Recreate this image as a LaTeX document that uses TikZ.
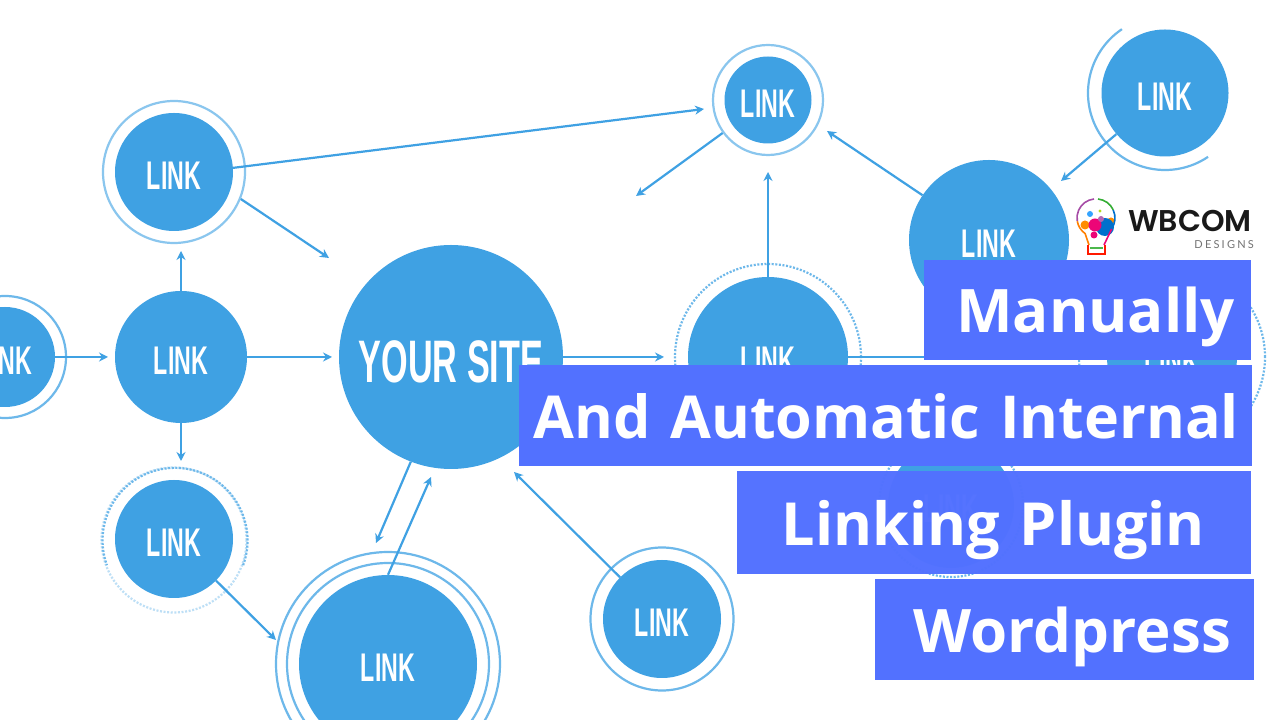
\documentclass[tikz,border=0pt]{standalone}
\usepackage{fontspec}
\usepackage{tikz}
\usetikzlibrary{arrows.meta}
\newfontfamily\linkfont[FakeStretch=0.58]{Liberation Sans}
\newfontfamily\sitefont[FakeStretch=0.57]{Liberation Sans}
\newfontfamily\titlefont{Open Sans}
\newfontfamily\logofont{Poppins SemiBold}
\newfontfamily\subfont[LetterSpace=20]{Lato}
\definecolor{linkblue}{HTML}{3FA1E3}
\definecolor{ringblue}{HTML}{6DB8EA}
\definecolor{titleblue}{HTML}{5271FF}
\tikzset{
    linknode/.style={circle,fill=linkblue,text=white,inner sep=0pt,font=\linkfont\bfseries\fontsize{40}{40}\selectfont,text height=35pt,text depth=0pt},
    ringnode/.style={circle,draw=ringblue,line width=2.2pt,inner sep=0pt},
    dotnode/.style={ringnode,dash pattern=on 2pt off 1.6pt},
    linkarrow/.style={draw=linkblue,line width=2.2pt,-{Stealth[length=9pt,width=9pt]}},
    titlebox/.style={fill=titleblue,text=white,inner ysep=0pt,align=right,text height=46pt,text depth=0pt,font=\titlefont\bfseries\fontsize{60}{60}\selectfont},
}
\begin{document}
\begin{tikzpicture}[x=1pt,y=1pt]
    \useasboundingbox (0,0) rectangle (1280,720);
    \clip (0,0) rectangle (1280,720);
    \fill[white] (0,0) rectangle (1280,720);

    \node[linknode,minimum size=118pt] (linkA) at (174,548) {LINK};
    \node[ringnode,draw=ringblue!80,minimum size=142pt] (ringA) at (174,548) {};
    \node[linknode,minimum size=100pt] (linkL) at (5,363) {LINK};
    \node[ringnode,minimum size=122pt] (ringL) at (5,363) {};
    \node[linknode,minimum size=132pt] (linkM) at (181,363) {LINK};
    \node[linknode,minimum size=118pt] (linkBL) at (174,181) {LINK};
    \node[dotnode,draw=ringblue!45,minimum size=145pt] (ringBL) at (174,180) {};
    \draw[ringblue,line width=2.2pt,dash pattern=on 2pt off 1.6pt] (ringBL.-20) arc[start angle=-20,end angle=200,radius=72.5pt];
    \node[linknode,minimum size=224pt,font=\sitefont\bfseries\fontsize{60}{60}\selectfont,text height=52pt] (site) at (451,363) {YOUR SITE};
    \node[linknode,minimum size=178pt] (linkBig) at (388,56) {LINK};
    \node[ringnode,minimum size=202pt] (ringBig) at (388,56) {};
    \node[ringnode,minimum size=224pt] (ringBigOut) at (388,56) {};
    \node[linknode,minimum size=118pt] (linkBR) at (662,101) {LINK};
    \node[ringnode,minimum size=143pt] (ringBR) at (662,101) {};
    \node[linknode,minimum size=87pt] (linkT) at (768,620) {LINK};
    \node[ringnode,draw=ringblue!80,minimum size=110pt] (ringT) at (768,620) {};
    \node[linknode,minimum size=160pt] (linkRB) at (989,480) {LINK};
    \node[linknode,minimum size=160pt] (linkCR) at (768,363) {LINK};
    \node[dotnode,minimum size=186pt] (ringCR) at (768,363) {};
    \node[linknode,minimum size=127pt] (linkTR) at (1165,627) {LINK};
    \node[linknode,minimum size=130pt] (linkF) at (1172,363) {LINK};
    \node[dotnode,minimum size=186pt] (ringF) at (1172,363) {};
    \node[linknode,minimum size=126pt] (linkG) at (951,215) {LINK};
    \node[dotnode,minimum size=144pt] (ringG) at (951,215) {};
    \draw[ringblue,line width=2.2pt] (linkTR) ++(124:77) arc[start angle=124,end angle=304,radius=77pt];

    \coordinate (tipAT) at (704,611);
    \coordinate (tipAS) at (329,462);
    \coordinate (tipMA) at (181,469);
    \coordinate (tipMS) at (332,363);
    \coordinate (tipLM) at (108,363);
    \coordinate (tipMB) at (181,259);
    \coordinate (tipBB) at (276,80);
    \coordinate (tipSB) at (376,177);
    \coordinate (tipBS) at (431,243);
    \coordinate (tipRS) at (514,248);
    \coordinate (tipSC) at (664,363);
    \coordinate (tipCT) at (768,548);
    \coordinate (tipTW) at (636,524);
    \coordinate (tipRT) at (827,589);
    \coordinate (tipTR) at (1061,539);
    \draw[linkarrow] (linkA.4) -- (tipAT);
    \draw[linkarrow] (ringA.-22) -- (tipAS);
    \draw[linkarrow] (linkM) -- (tipMA);
    \draw[linkarrow] (linkM) -- (tipMS);
    \draw[linkarrow] (linkL) -- (tipLM);
    \draw[linkarrow] (linkM) -- (tipMB);
    \draw[linkarrow] (linkBL) -- (tipBB);
    \draw[linkarrow] (site.-111) -- (tipSB);
    \draw[linkarrow] (linkBig.90) -- (tipBS);
    \draw[linkarrow] (linkBR) -- (tipRS);
    \draw[linkarrow] (site) -- (tipSC);
    \draw[linkarrow] (linkCR) -- (tipCT);
    \draw[linkarrow] (ringT) -- (tipTW);
    \draw[linkarrow] (linkRB) -- (tipRT);
    \draw[linkarrow] (linkTR) -- (tipTR);
    \draw[draw=linkblue,line width=2.2pt] (linkCR) -- (linkF);

    \node[titlebox,text width=295pt,inner xsep=16pt,minimum height=100pt] (titleA) at (1087.5,410) {\llap{Manually}};
    \node[titlebox,font=\titlefont\bfseries\fontsize{59.2}{60}\selectfont,text width=707pt,inner xsep=13pt,minimum height=101pt] (titleB) at (885.5,304.5) {\llap{And Automatic Internal}};
    \node[titlebox,font=\titlefont\bfseries\fontsize{59.4}{60}\selectfont,fill opacity=.98,text opacity=1,text width=422pt,inner xsep=46pt,minimum height=103pt] (titleC) at (994,197.5) {\llap{Linking Plugin}};
    \node[titlebox,text width=333pt,inner xsep=23pt,minimum height=101pt] (titleD) at (1064.5,90.5) {\llap{Wordpress}};

    \coordinate (bulb) at (1096,502);
    \begin{scope}[shift={(bulb)},line width=1.6pt]
        \fill[orange!90!yellow] (-11,-7) circle (4.5);
        \fill[orange!90!yellow] (15,-3) circle (3.5);
        \fill[blue!45!cyan!80!black] (9,-9) circle (9);
        \fill[magenta!80!red] (-1,-7) circle (6.5);
        \fill[magenta!80!red] (-2,-17) circle (3.5);
        \fill[violet!60] (5,-1) circle (3);
        \fill[blue!45!cyan!80] (-6,4) circle (3);
        \fill[yellow!70!green] (4,7) circle (1.7);
        \draw[violet!70] (-2,19) arc[start angle=96,end angle=190,radius=19pt];
        \draw[green!60!black!80] (2,19) arc[start angle=84,end angle=25,radius=19pt];
        \draw[blue!45!cyan!80!black] (17.2,8) arc[start angle=25,end angle=-35,radius=19pt];
        \draw[orange] (-18.7,-3.3) arc[start angle=190,end angle=235,radius=19pt] -- (-7,-27);
        \draw[magenta!80!red] (15.6,-11) -- (8,-27);
        \draw[red!80!orange] (-8,-27) -- (-8,-36) -- (9,-36) -- (9,-27);
        \draw[green!60!black!70] (-6,-30) -- (7,-30);
    \end{scope}
    \node[anchor=west,inner sep=0pt,font=\logofont\fontsize{30}{30}\selectfont,text=black!90] (logoname) at (1128,499.5) {WBCOM};
    \node[anchor=east,inner sep=0pt,font=\subfont\fontsize{11}{11}\selectfont,text=black!55] (logosub) at (1254,475) {DESIGNS};
\end{tikzpicture}
\end{document}
